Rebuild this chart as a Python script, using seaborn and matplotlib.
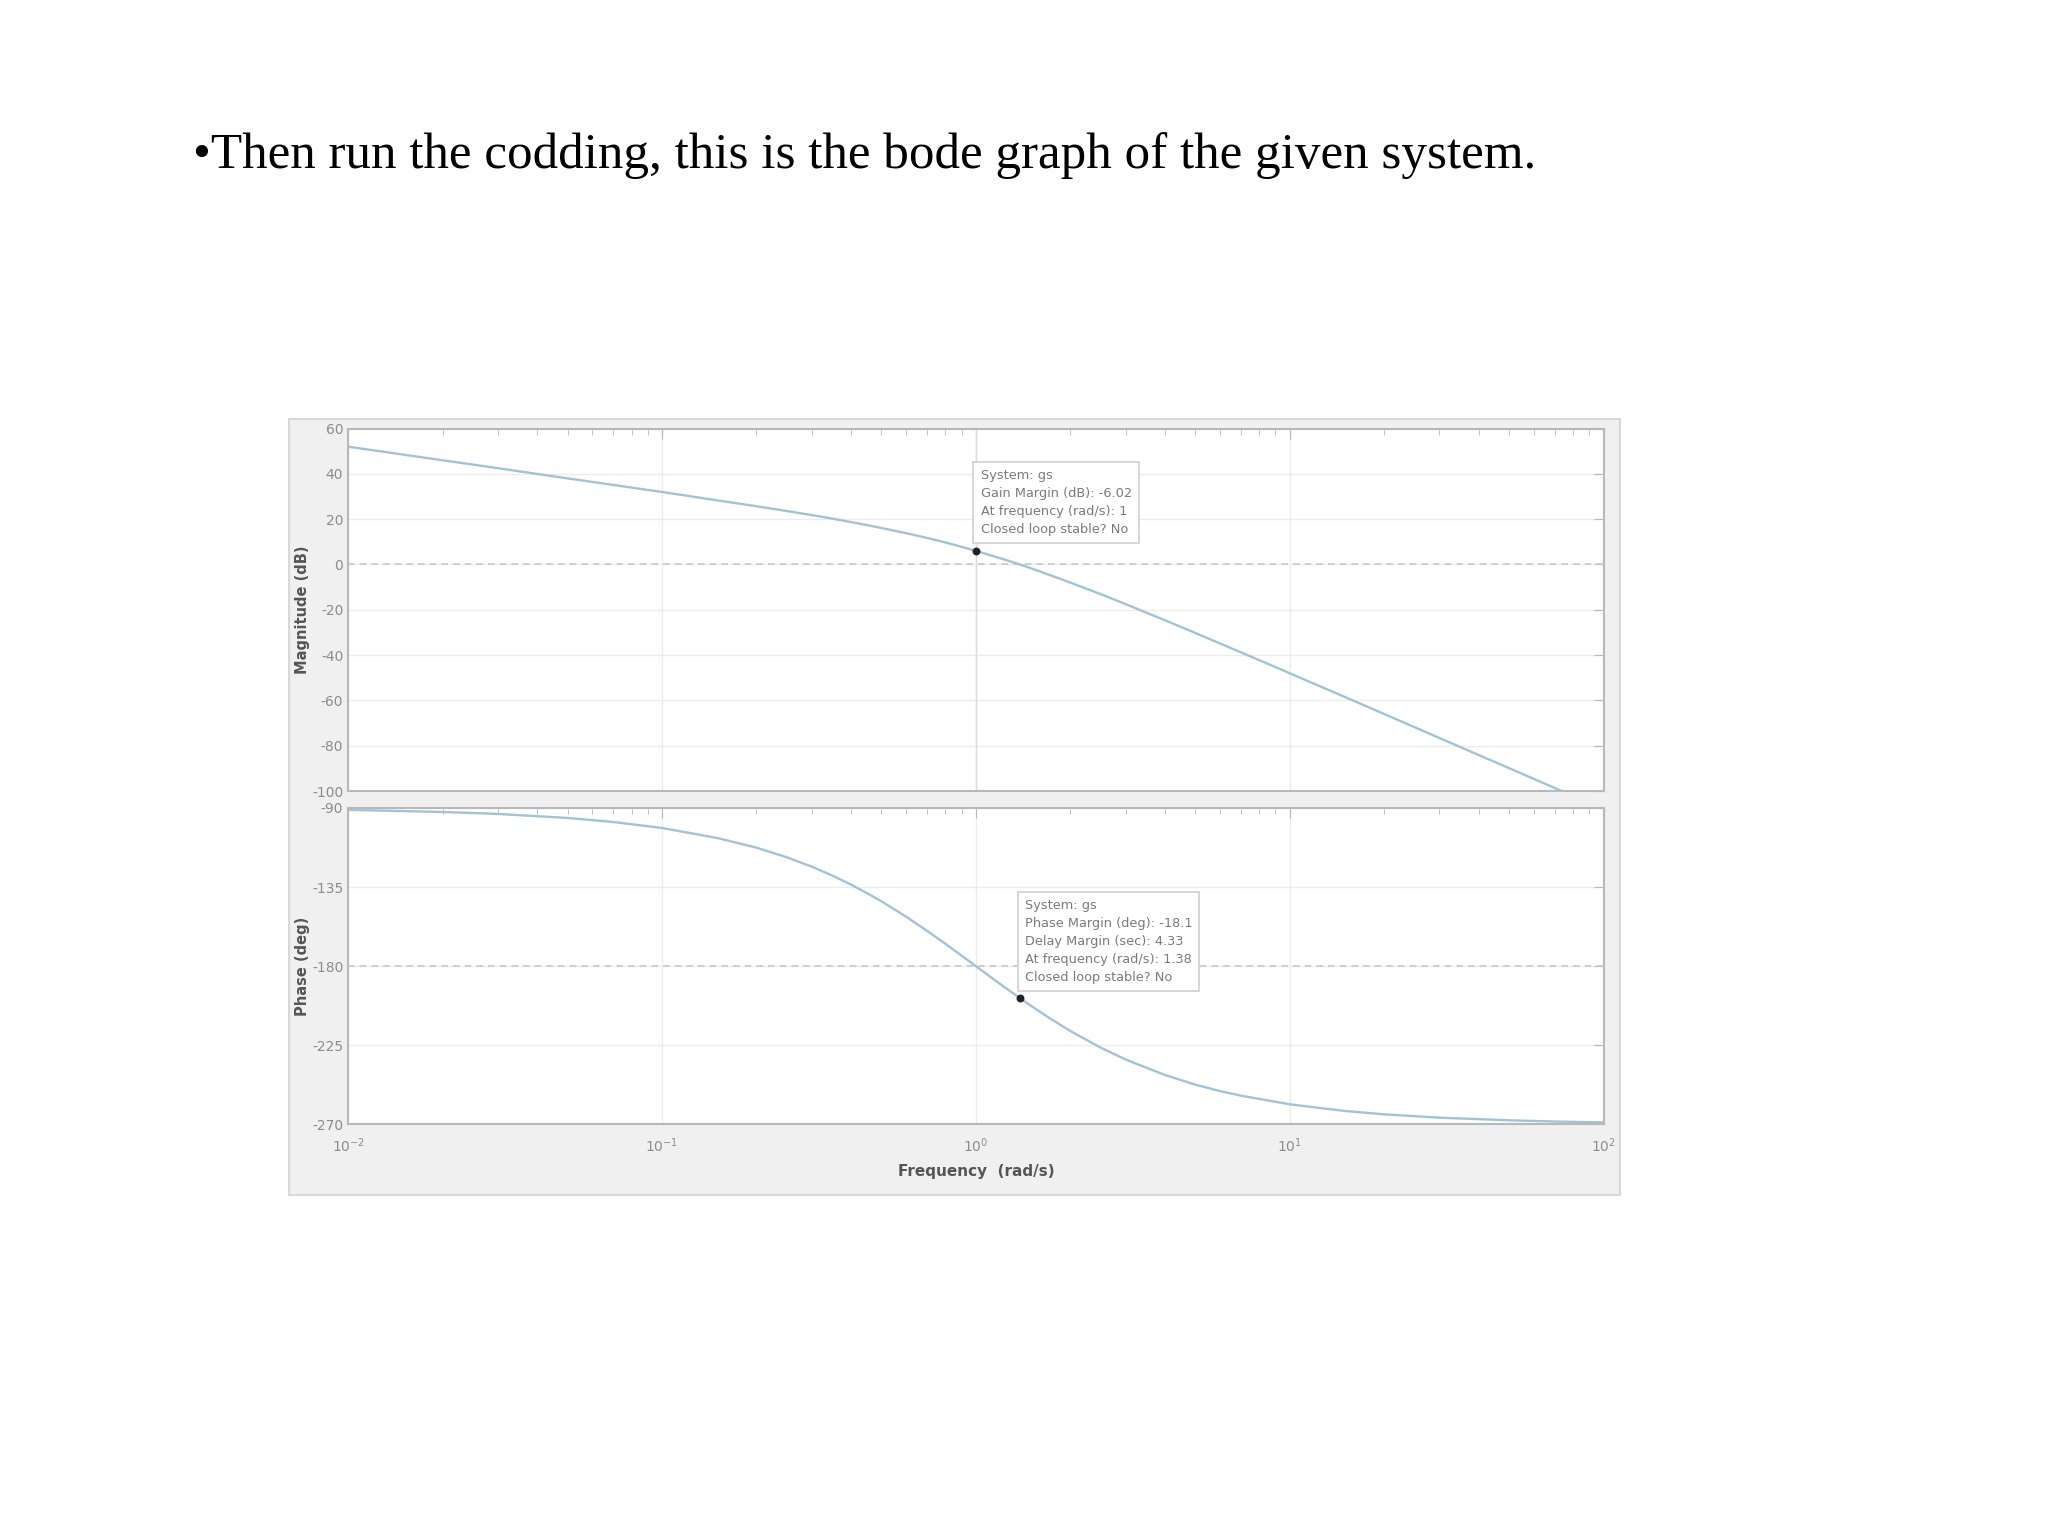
import numpy as np
import pandas as pd
import matplotlib
matplotlib.use("Agg")
import matplotlib.pyplot as plt
from matplotlib.patches import Rectangle
from matplotlib.ticker import LogLocator, NullFormatter
import seaborn as sns

sns.set_style("white")
plt.rcParams["font.family"] = ["DejaVu Sans"]
plt.rcParams["axes.unicode_minus"] = False

# values (rad/s, dB, deg)
freq = [0.01, 0.02, 0.03, 0.05, 0.07, 0.1, 0.15, 0.2, 0.25, 0.3, 0.35, 0.4, 0.45, 0.5, 0.6, 0.7, 0.8, 0.9, 1.0,
        1.2, 1.38, 1.5, 1.7, 2.0, 2.5, 3.0, 4.0, 5.0, 6.0, 7.0, 10.0, 15.0, 20.0, 30.0, 50.0, 70.0, 100.0]
mag_db = [52.0, 46.0, 42.5, 38.0, 35.1, 32.0, 28.3, 25.7, 23.6, 21.8, 20.2, 18.7, 17.4, 16.1, 13.8, 11.7, 9.7, 7.8, 6.0,
          2.7, 0.0, -1.7, -4.4, -8.0, -13.1, -17.5, -24.6, -30.2, -34.9, -38.8, -48.0, -58.5, -66.0, -76.6, -89.9, -98.7, -108.0]
phase_deg = [-91.1, -92.3, -93.4, -95.7, -98.0, -101.4, -107.1, -112.6, -118.1, -123.4, -128.6, -133.6, -138.5, -143.1,
             -151.9, -160.0, -167.3, -174.0, -180.0, -190.4, -198.1, -202.6, -209.1, -216.9, -226.4, -233.1, -241.9,
             -247.4, -251.1, -253.7, -258.6, -262.4, -264.3, -266.2, -267.7, -268.4, -268.9]

mag_ticks = [60, 40, 20, 0, -20, -40, -60, -80, -100]
phase_ticks = [-90, -135, -180, -225, -270]
x_ticks = [0.01, 0.1, 1, 10, 100]
x_ticklabels = ["$10^{-2}$", "$10^{-1}$", "$10^{0}$", "$10^{1}$", "$10^{2}$"]

gm_point = (1.0, 6.02)
pm_point = (1.38, -198.1)
gm_text = ["System: gs", "Gain Margin (dB): -6.02", "At frequency (rad/s): 1", "Closed loop stable? No"]
pm_text = ["System: gs", "Phase Margin (deg): -18.1", "Delay Margin (sec): 4.33",
           "At frequency (rad/s): 1.38", "Closed loop stable? No"]

title = "\u2022Then run the codding, this is the bode graph of the given system."

df = pd.DataFrame({"freq": freq, "mag": mag_db, "phase": phase_deg})

line_color = "#a2c2d6"
tick_color = "#8c8c8c"
spine_color = "#b8b8b8"

fig = plt.figure(figsize=(20.48, 15.36), dpi=100)
fig.patch.set_facecolor("white")

# gray figure panel like the MATLAB window
panel = Rectangle((0.141, 0.222), 0.650, 0.505, transform=fig.transFigure,
                  facecolor="#f0f0f0", edgecolor="#d8d8d8", lw=1.5, zorder=-5)
fig.add_artist(panel)

fig.text(0.094, 0.899, title, fontsize=36.8, family=["Liberation Serif", "DejaVu Serif"],
         color="black", va="center", ha="left")

ax_mag = fig.add_axes([0.170, 0.485, 0.613, 0.236])
ax_ph = fig.add_axes([0.170, 0.268, 0.613, 0.206])


def style_axis(ax, ticks, ylim):
    ax.set_zorder(2)
    ax.set_facecolor("white")
    ax.set_xscale("log")
    ax.set_xlim(0.01, 100)
    ax.set_ylim(*ylim)
    ax.set_yticks(ticks)
    ax.set_xticks(x_ticks)
    ax.xaxis.set_minor_locator(LogLocator(base=10, subs=np.arange(2, 10), numticks=20))
    ax.xaxis.set_minor_formatter(NullFormatter())
    ax.tick_params(axis="both", which="both", direction="in", colors=spine_color,
                   labelcolor=tick_color, labelsize=10, top=True, right=True)
    ax.tick_params(axis="both", which="major", length=7)
    ax.tick_params(axis="x", which="minor", length=4)
    ax.tick_params(axis="x", which="major", pad=9)
    for s in ax.spines.values():
        s.set_color(spine_color)
        s.set_linewidth(1.5)
    ax.grid(True, which="major", color="#ececec", lw=1.0)
    ax.set_axisbelow(True)


style_axis(ax_mag, mag_ticks, (-100, 60))
style_axis(ax_ph, phase_ticks, (-270, -90))

sns.lineplot(data=df, x="freq", y="mag", ax=ax_mag, color=line_color, lw=1.7)
sns.lineplot(data=df, x="freq", y="phase", ax=ax_ph, color=line_color, lw=1.7)

ax_mag.axhline(0, color="#c8c8c8", lw=1.2, ls=(0, (4, 3)), zorder=1)
ax_ph.axhline(-180, color="#c8c8c8", lw=1.2, ls=(0, (4, 3)), zorder=1)
ax_mag.axvline(gm_point[0], color="#dcdcdc", lw=1.0, zorder=1)

ax_mag.scatter([gm_point[0]], [gm_point[1]], s=22, color="#222222", zorder=5)
ax_ph.scatter([pm_point[0]], [pm_point[1]], s=22, color="#222222", zorder=5)

box = dict(boxstyle="square,pad=0.55", facecolor="white", edgecolor="#d0d0d0", lw=1.2)
ax_mag.text(1.035, 27.5, "\n".join(gm_text), fontsize=9.3, color="#7a7a7a", va="center",
            ha="left", linespacing=1.5, bbox=box, zorder=6)
ax_ph.text(1.43, -166, "\n".join(pm_text), fontsize=9.3, color="#7a7a7a", va="center",
           ha="left", linespacing=1.5, bbox=box, zorder=6)

ax_mag.set_xticklabels([])
ax_mag.set_xlabel("")
ax_ph.set_xticklabels(x_ticklabels)
ax_ph.set_xlabel("Frequency  (rad/s)", fontsize=11, color="#555555", fontweight="bold", labelpad=6)
ax_mag.set_ylabel("Magnitude (dB)", fontsize=10.5, color="#555555", fontweight="bold", labelpad=12)
ax_ph.set_ylabel("Phase (deg)", fontsize=10.5, color="#555555", fontweight="bold", labelpad=12)
ax_mag.yaxis.set_label_coords(-0.030, 0.5)
ax_ph.yaxis.set_label_coords(-0.030, 0.5)

fig.savefig("out.png", dpi=100)
